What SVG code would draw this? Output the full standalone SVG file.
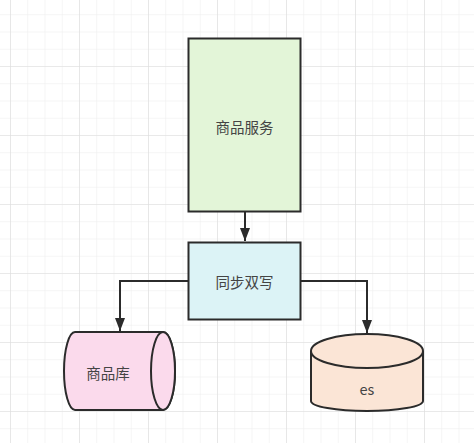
<svg xmlns="http://www.w3.org/2000/svg" width="474" height="443" viewBox="0 0 474 443">
  <defs>
    <pattern id="minor" width="17.25" height="17.25" patternUnits="userSpaceOnUse" x="10" y="-3">
      <path d="M0,0 H17.25 M0,0 V17.25" fill="none" stroke="#ececec" stroke-width="1"/>
    </pattern>
    <pattern id="major" width="69" height="69" patternUnits="userSpaceOnUse" x="10" y="-3">
      <path d="M0,0 H69 M0,0 V69" fill="none" stroke="#dedede" stroke-width="1.2"/>
    </pattern>
    <marker id="arrow" markerUnits="userSpaceOnUse" markerWidth="14" markerHeight="14" viewBox="0 0 14 14" refX="13" refY="7" orient="auto">
      <path d="M0,2 L13,7 L0,12 Z" fill="#2b2b2b"/>
    </marker>
  </defs>
  <style>
    .shape { stroke: #2b2b2b; stroke-width: 2; }
    .label { font-family: "Noto Sans CJK SC", "Liberation Sans", sans-serif; font-size: 14.5px; fill: #444; text-anchor: middle; dominant-baseline: central; }
    .conn { fill: none; stroke: #2b2b2b; stroke-width: 2; marker-end: url(#arrow); }
  </style>
  <rect width="474" height="443" fill="#ffffff"/>
  <rect width="474" height="443" fill="url(#minor)"/>
  <rect width="474" height="443" fill="url(#major)"/>

  <g id="connectors">
    <path class="conn" d="M245,212 V241"/>
    <path class="conn" d="M188,281 H120 V331"/>
    <path class="conn" d="M301,281 H367 V333"/>
  </g>

  <g id="node-service">
    <rect class="shape" x="188.5" y="38.5" width="112" height="173" fill="#e3f5d8"/>
    <text class="label" x="244.5" y="126">商品服务</text>
  </g>

  <g id="node-sync">
    <rect class="shape" x="188.5" y="242.5" width="112" height="77" fill="#dcf3f6"/>
    <text class="label" x="244.5" y="281.5">同步双写</text>
  </g>

  <g id="node-db">
    <path class="shape" d="M163,332 H75 A11,39 0 0 0 75,410 H163 A12,39 0 0 0 163,332 Z" fill="#fbdaec"/>
    <ellipse class="shape" cx="163" cy="371" rx="12" ry="39" fill="#fbdaec"/>
    <text class="label" x="108" y="372">商品库</text>
  </g>

  <g id="node-es">
    <path class="shape" d="M311,351 V401 A56,10 0 0 0 423,401 V351" fill="#fbe5d6"/>
    <ellipse class="shape" cx="367" cy="351" rx="56" ry="17" fill="#fbe5d6"/>
    <text class="label" x="367" y="388">es</text>
  </g>
</svg>
